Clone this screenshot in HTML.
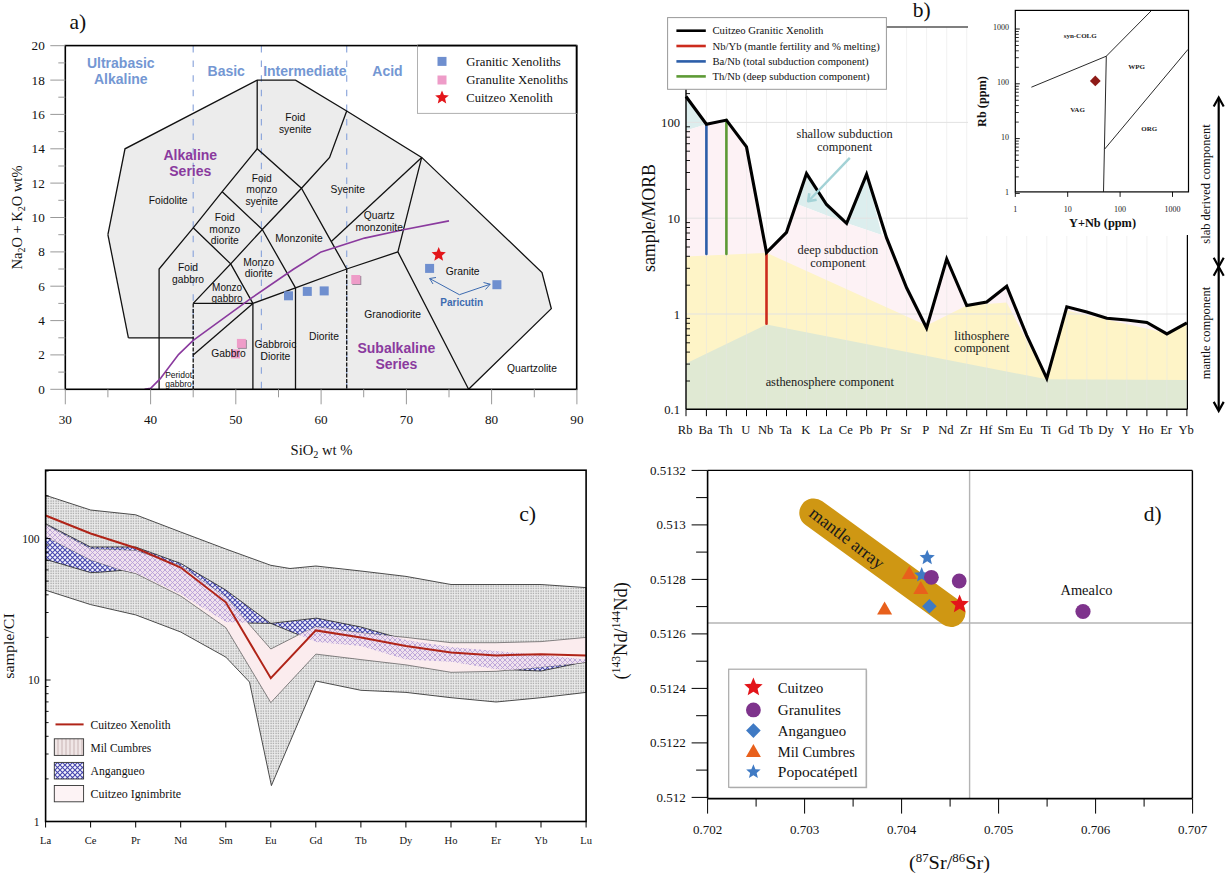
<!DOCTYPE html>
<html><head><meta charset="utf-8"><style>
html,body{margin:0;padding:0;background:#fff;width:1228px;height:875px;overflow:hidden}
svg{display:block}
.sans{font-family:"Liberation Sans",sans-serif}
.serif{font-family:"Liberation Serif",serif}
</style></head><body>
<svg width="1228" height="875" viewBox="0 0 1228 875">
<polygon points="107.9,234.7 125.0,148.8 257.2,80.1 295.5,80.1 346.7,111.0 421.7,157.4 542.0,272.5 551.3,308.6 468.6,389.3 193.2,389.3 193.2,337.8 128.4,337.8" fill="#ececec" stroke="none"/>
<line x1="193.2" y1="46" x2="193.2" y2="389" stroke="#8fa8dc" stroke-width="1.2" stroke-dasharray="6.5,8.1"/>
<line x1="261.4" y1="46" x2="261.4" y2="389" stroke="#8fa8dc" stroke-width="1.2" stroke-dasharray="6.5,8.1"/>
<line x1="346.7" y1="46" x2="346.7" y2="389" stroke="#8fa8dc" stroke-width="1.2" stroke-dasharray="6.5,8.1"/>
<polyline points="107.9,234.7 125.0,148.8 257.2,80.1 295.5,80.1 346.7,111.0 421.7,157.4 542.0,272.5 551.3,308.6 468.6,389.3" fill="none" stroke="#111" stroke-width="1.3" stroke-linejoin="miter"/>
<polyline points="128.4,337.8 107.9,234.7" fill="none" stroke="#111" stroke-width="1.3" stroke-linejoin="miter"/>
<polyline points="128.4,337.8 193.2,337.8" fill="none" stroke="#111" stroke-width="1.3" stroke-linejoin="miter"/>
<polyline points="159.1,389.3 159.1,269.0 193.2,227.8 222.2,191.7 257.2,148.8 301.5,188.3 329.6,157.4 346.7,111.0" fill="none" stroke="#111" stroke-width="1.3" stroke-linejoin="miter"/>
<polyline points="257.2,80.1 257.2,148.8" fill="none" stroke="#111" stroke-width="1.3" stroke-linejoin="miter"/>
<polyline points="222.2,191.7 262.3,229.5 301.5,188.3" fill="none" stroke="#111" stroke-width="1.3" stroke-linejoin="miter"/>
<polyline points="193.2,227.8 230.7,263.9 262.3,229.5 295.5,287.9" fill="none" stroke="#111" stroke-width="1.3" stroke-linejoin="miter"/>
<polyline points="301.5,188.3 331.3,241.6 346.7,269.0" fill="none" stroke="#111" stroke-width="1.3" stroke-linejoin="miter"/>
<polyline points="331.3,241.6 421.7,157.4" fill="none" stroke="#111" stroke-width="1.3" stroke-linejoin="miter"/>
<polyline points="421.7,157.4 397.9,251.9 468.6,389.3" fill="none" stroke="#111" stroke-width="1.3" stroke-linejoin="miter"/>
<polyline points="193.2,303.4 230.7,263.9 252.9,303.4" fill="none" stroke="#111" stroke-width="1.3" stroke-linejoin="miter"/>
<polyline points="193.2,303.4 252.9,303.4 295.5,287.9 346.7,269.0 397.9,251.9" fill="none" stroke="#111" stroke-width="1.3" stroke-linejoin="miter"/>
<polyline points="193.2,354.9 252.9,303.4" fill="none" stroke="#111" stroke-width="1.3" stroke-linejoin="miter"/>
<polyline points="252.9,389.3 252.9,303.4" fill="none" stroke="#111" stroke-width="1.3" stroke-linejoin="miter"/>
<polyline points="295.5,389.3 295.5,287.9" fill="none" stroke="#111" stroke-width="1.3" stroke-linejoin="miter"/>
<line x1="346.7" y1="269.0" x2="346.7" y2="389.3" stroke="#111" stroke-width="1.3" stroke-dasharray="4,1.5"/>
<line x1="193.2" y1="303.4" x2="193.2" y2="389.3" stroke="#111" stroke-width="1.3" stroke-dasharray="4,1.5"/>
<polyline points="144.6,389.3 150.6,388.4 160.8,378.1 168.5,367.8 178.7,354.3 193.2,340.3 252.0,297.7 293.8,269.0 321.1,251.9 364.6,238.1 402.1,230.0 449.0,220.9" fill="none" stroke="#8a3a9e" stroke-width="1.6" stroke-linejoin="round"/>
<rect x="65.3" y="45.6" width="511.4" height="343.7" fill="none" stroke="#000" stroke-width="1.6"/>
<line x1="50.3" y1="389.3" x2="65.3" y2="389.3" stroke="#999" stroke-width="1"/>
<line x1="58.3" y1="372.1" x2="65.3" y2="372.1" stroke="#999" stroke-width="1"/>
<line x1="50.3" y1="354.9" x2="65.3" y2="354.9" stroke="#999" stroke-width="1"/>
<line x1="58.3" y1="337.8" x2="65.3" y2="337.8" stroke="#999" stroke-width="1"/>
<line x1="50.3" y1="320.6" x2="65.3" y2="320.6" stroke="#999" stroke-width="1"/>
<line x1="58.3" y1="303.4" x2="65.3" y2="303.4" stroke="#999" stroke-width="1"/>
<line x1="50.3" y1="286.2" x2="65.3" y2="286.2" stroke="#999" stroke-width="1"/>
<line x1="58.3" y1="269.0" x2="65.3" y2="269.0" stroke="#999" stroke-width="1"/>
<line x1="50.3" y1="251.9" x2="65.3" y2="251.9" stroke="#999" stroke-width="1"/>
<line x1="58.3" y1="234.7" x2="65.3" y2="234.7" stroke="#999" stroke-width="1"/>
<line x1="50.3" y1="217.5" x2="65.3" y2="217.5" stroke="#999" stroke-width="1"/>
<line x1="58.3" y1="200.3" x2="65.3" y2="200.3" stroke="#999" stroke-width="1"/>
<line x1="50.3" y1="183.1" x2="65.3" y2="183.1" stroke="#999" stroke-width="1"/>
<line x1="58.3" y1="166.0" x2="65.3" y2="166.0" stroke="#999" stroke-width="1"/>
<line x1="50.3" y1="148.8" x2="65.3" y2="148.8" stroke="#999" stroke-width="1"/>
<line x1="58.3" y1="131.6" x2="65.3" y2="131.6" stroke="#999" stroke-width="1"/>
<line x1="50.3" y1="114.4" x2="65.3" y2="114.4" stroke="#999" stroke-width="1"/>
<line x1="58.3" y1="97.2" x2="65.3" y2="97.2" stroke="#999" stroke-width="1"/>
<line x1="50.3" y1="80.1" x2="65.3" y2="80.1" stroke="#999" stroke-width="1"/>
<line x1="58.3" y1="62.9" x2="65.3" y2="62.9" stroke="#999" stroke-width="1"/>
<line x1="50.3" y1="45.7" x2="65.3" y2="45.7" stroke="#999" stroke-width="1"/>
<line x1="65.3" y1="389.3" x2="65.3" y2="404.3" stroke="#999" stroke-width="1"/>
<line x1="107.9" y1="389.3" x2="107.9" y2="397.3" stroke="#999" stroke-width="1"/>
<line x1="150.6" y1="389.3" x2="150.6" y2="404.3" stroke="#999" stroke-width="1"/>
<line x1="193.2" y1="389.3" x2="193.2" y2="397.3" stroke="#999" stroke-width="1"/>
<line x1="235.8" y1="389.3" x2="235.8" y2="404.3" stroke="#999" stroke-width="1"/>
<line x1="278.5" y1="389.3" x2="278.5" y2="397.3" stroke="#999" stroke-width="1"/>
<line x1="321.1" y1="389.3" x2="321.1" y2="404.3" stroke="#999" stroke-width="1"/>
<line x1="363.7" y1="389.3" x2="363.7" y2="397.3" stroke="#999" stroke-width="1"/>
<line x1="406.4" y1="389.3" x2="406.4" y2="404.3" stroke="#999" stroke-width="1"/>
<line x1="449.0" y1="389.3" x2="449.0" y2="397.3" stroke="#999" stroke-width="1"/>
<line x1="491.6" y1="389.3" x2="491.6" y2="404.3" stroke="#999" stroke-width="1"/>
<line x1="534.3" y1="389.3" x2="534.3" y2="397.3" stroke="#999" stroke-width="1"/>
<line x1="576.9" y1="389.3" x2="576.9" y2="404.3" stroke="#999" stroke-width="1"/>
<text x="44.8" y="393.8" class="serif" font-size="13.2" text-anchor="end" fill="#111">0</text>
<text x="44.8" y="359.4" class="serif" font-size="13.2" text-anchor="end" fill="#111">2</text>
<text x="44.8" y="325.1" class="serif" font-size="13.2" text-anchor="end" fill="#111">4</text>
<text x="44.8" y="290.7" class="serif" font-size="13.2" text-anchor="end" fill="#111">6</text>
<text x="44.8" y="256.4" class="serif" font-size="13.2" text-anchor="end" fill="#111">8</text>
<text x="44.8" y="222.0" class="serif" font-size="13.2" text-anchor="end" fill="#111">10</text>
<text x="44.8" y="187.6" class="serif" font-size="13.2" text-anchor="end" fill="#111">12</text>
<text x="44.8" y="153.3" class="serif" font-size="13.2" text-anchor="end" fill="#111">14</text>
<text x="44.8" y="118.9" class="serif" font-size="13.2" text-anchor="end" fill="#111">16</text>
<text x="44.8" y="84.6" class="serif" font-size="13.2" text-anchor="end" fill="#111">18</text>
<text x="44.8" y="50.2" class="serif" font-size="13.2" text-anchor="end" fill="#111">20</text>
<text x="65.3" y="424.0" class="serif" font-size="13.2" text-anchor="middle" fill="#111">30</text>
<text x="150.6" y="424.0" class="serif" font-size="13.2" text-anchor="middle" fill="#111">40</text>
<text x="235.8" y="424.0" class="serif" font-size="13.2" text-anchor="middle" fill="#111">50</text>
<text x="321.1" y="424.0" class="serif" font-size="13.2" text-anchor="middle" fill="#111">60</text>
<text x="406.4" y="424.0" class="serif" font-size="13.2" text-anchor="middle" fill="#111">70</text>
<text x="491.6" y="424.0" class="serif" font-size="13.2" text-anchor="middle" fill="#111">80</text>
<text x="576.9" y="424.0" class="serif" font-size="13.2" text-anchor="middle" fill="#111">90</text>
<text x="290.5" y="455.3" class="serif" font-size="15" fill="#111" textLength="62" lengthAdjust="spacingAndGlyphs">SiO<tspan font-size="10.5" dy="3">2</tspan><tspan dy="-3"> wt %</tspan></text>
<text transform="translate(21.6,269.5) rotate(-90)" class="serif" font-size="14.5" fill="#111" textLength="104" lengthAdjust="spacingAndGlyphs">Na<tspan font-size="10" dy="3">2</tspan><tspan dy="-3">O + K</tspan><tspan font-size="10" dy="3">2</tspan><tspan dy="-3">O wt%</tspan></text>
<text x="69.5" y="29.3" class="serif" font-size="21.5" fill="#111">a)</text>
<text x="120.8" y="68" text-anchor="middle" class="sans" font-weight="bold" fill="#7497d3" font-size="14">Ultrabasic</text>
<text x="120.8" y="84" text-anchor="middle" class="sans" font-weight="bold" fill="#7497d3" font-size="14">Alkaline</text>
<text x="226.2" y="75.5" text-anchor="middle" class="sans" font-weight="bold" fill="#7497d3" font-size="14">Basic</text>
<text x="304.8" y="75.5" text-anchor="middle" class="sans" font-weight="bold" fill="#7497d3" font-size="14">Intermediate</text>
<text x="387.5" y="75.5" text-anchor="middle" class="sans" font-weight="bold" fill="#7497d3" font-size="14">Acid</text>
<text x="190.3" y="159.8" text-anchor="middle" class="sans" font-weight="bold" fill="#8a3a9e" font-size="14">Alkaline</text>
<text x="190.3" y="175.7" text-anchor="middle" class="sans" font-weight="bold" fill="#8a3a9e" font-size="14">Series</text>
<text x="396.4" y="353.2" text-anchor="middle" class="sans" font-weight="bold" fill="#8a3a9e" font-size="14">Subalkaline</text>
<text x="396.4" y="369.4" text-anchor="middle" class="sans" font-weight="bold" fill="#8a3a9e" font-size="14">Series</text>
<rect x="284.0" y="291.3" width="9" height="9" fill="#6f8fcf"/>
<rect x="302.8" y="286.9" width="9" height="9" fill="#6f8fcf"/>
<rect x="319.7" y="286.4" width="9" height="9" fill="#6f8fcf"/>
<rect x="425.1" y="263.9" width="9" height="9" fill="#6f8fcf"/>
<rect x="492.4" y="280.2" width="9" height="9" fill="#6f8fcf"/>
<rect x="352.3" y="276.0" width="9" height="9" fill="#9a8a9a"/>
<rect x="351.3" y="275.0" width="9" height="9" fill="#ee9cc8"/>
<rect x="237.9" y="339.9" width="9" height="9" fill="#9a8a9a"/>
<rect x="236.9" y="338.9" width="9" height="9" fill="#ee9cc8"/>
<rect x="231.0" y="349.4" width="9" height="9" fill="#ee9cc8"/>
<polygon points="438.70,247.10 440.68,251.87 445.83,252.28 441.91,255.64 443.11,260.67 438.70,257.98 434.29,260.67 435.49,255.64 431.57,252.28 436.72,251.87" fill="#e3151a"/>
<polyline points="429.6,278.5 459.4,294.7 490.2,284.2" fill="none" stroke="#3d6bb0" stroke-width="1"/>
<polyline points="436,277.5 429.6,278.5 433,284" fill="none" stroke="#3d6bb0" stroke-width="1"/>
<polyline points="483.5,282.5 490.2,284.2 485.5,289.5" fill="none" stroke="#3d6bb0" stroke-width="1"/>
<text x="461.7" y="306" text-anchor="middle" class="sans" font-weight="bold" font-size="10" fill="#3d6bb0">Paricutin</text>
<text x="295.3" y="121.4" text-anchor="middle" class="sans" font-size="10.3" fill="#111">Foid</text>
<text x="295.3" y="132.9" text-anchor="middle" class="sans" font-size="10.3" fill="#111">syenite</text>
<text x="168.1" y="203.6" text-anchor="middle" class="sans" font-size="10.3" fill="#111">Foidolite</text>
<text x="261.8" y="181.7" text-anchor="middle" class="sans" font-size="10.3" fill="#111">Foid</text>
<text x="261.8" y="193.4" text-anchor="middle" class="sans" font-size="10.3" fill="#111">monzo</text>
<text x="261.8" y="204.7" text-anchor="middle" class="sans" font-size="10.3" fill="#111">syenite</text>
<text x="224.8" y="221.2" text-anchor="middle" class="sans" font-size="10.3" fill="#111">Foid</text>
<text x="224.8" y="232.9" text-anchor="middle" class="sans" font-size="10.3" fill="#111">monzo</text>
<text x="224.8" y="243.7" text-anchor="middle" class="sans" font-size="10.3" fill="#111">diorite</text>
<text x="188" y="271.1" text-anchor="middle" class="sans" font-size="10.3" fill="#111">Foid</text>
<text x="188" y="282.8" text-anchor="middle" class="sans" font-size="10.3" fill="#111">gabbro</text>
<text x="258.7" y="266.4" text-anchor="middle" class="sans" font-size="10.3" fill="#111">Monzo</text>
<text x="258.7" y="276.9" text-anchor="middle" class="sans" font-size="10.3" fill="#111">diorite</text>
<text x="227.1" y="291.0" text-anchor="middle" class="sans" font-size="10" fill="#111">Monzo</text>
<text x="227.1" y="301.5" text-anchor="middle" class="sans" font-size="10" fill="#111">gabbro</text>
<text x="228.5" y="357.0" text-anchor="middle" class="sans" font-size="10.3" fill="#111">Gabbro</text>
<text x="275.4" y="348.4" text-anchor="middle" class="sans" font-size="10.3" fill="#111">Gabbroic</text>
<text x="275.4" y="360.1" text-anchor="middle" class="sans" font-size="10.3" fill="#111">Diorite</text>
<text x="178.6" y="377.6" text-anchor="middle" class="sans" font-size="8.5" fill="#111">Peridot</text>
<text x="178.6" y="386.5" text-anchor="middle" class="sans" font-size="8.5" fill="#111">gabbro</text>
<text x="299" y="242.1" text-anchor="middle" class="sans" font-size="10.3" fill="#111">Monzonite</text>
<text x="347.7" y="193.4" text-anchor="middle" class="sans" font-size="10.3" fill="#111">Syenite</text>
<text x="379.2" y="219.4" text-anchor="middle" class="sans" font-size="10.3" fill="#111">Quartz</text>
<text x="379.2" y="230.5" text-anchor="middle" class="sans" font-size="10.3" fill="#111">monzonite</text>
<text x="324" y="340.2" text-anchor="middle" class="sans" font-size="10.3" fill="#111">Diorite</text>
<text x="392.6" y="317.9" text-anchor="middle" class="sans" font-size="10.3" fill="#111">Granodiorite</text>
<text x="462.7" y="275.2" text-anchor="middle" class="sans" font-size="10.3" fill="#111">Granite</text>
<text x="532" y="372.4" text-anchor="middle" class="sans" font-size="10.3" fill="#111">Quartzolite</text>
<rect x="417.5" y="45.6" width="159" height="67.8" fill="#fff" stroke="#b0b0b0" stroke-width="1"/>
<line x1="576.5" y1="45.6" x2="576.5" y2="113.4" stroke="#000" stroke-width="1.6"/>
<line x1="417.5" y1="45.6" x2="576.5" y2="45.6" stroke="#000" stroke-width="1.6"/>
<rect x="437.5" y="56.9" width="9" height="9" fill="#6f8fcf"/>
<rect x="437.5" y="75.5" width="9" height="9" fill="#ee9cc8"/>
<polygon points="442.00,90.40 443.90,94.98 448.85,95.38 445.08,98.60 446.23,103.42 442.00,100.84 437.77,103.42 438.92,98.60 435.15,95.38 440.10,94.98" fill="#e3151a"/>
<text x="466.3" y="65.5" class="serif" font-size="12.3" fill="#111" textLength="94.5" lengthAdjust="spacingAndGlyphs">Granitic Xenoliths</text>
<text x="466.3" y="84.0" class="serif" font-size="12.3" fill="#111" textLength="101.8" lengthAdjust="spacingAndGlyphs">Granulite Xenoliths</text>
<text x="466.3" y="101.5" class="serif" font-size="12.3" fill="#111" textLength="86.5" lengthAdjust="spacingAndGlyphs">Cuitzeo Xenolith</text>
<polygon points="686.0,96.5 706.4,124.2 686.0,130.4" fill="#dceeee"/>
<polygon points="797.5,204.3 806.5,173.6 826.5,204.5 846.6,223.4 866.6,174.3 881.8,235.1 846.3,223.0" fill="#dceeee"/>
<polygon points="686.0,130.4 706.4,124.2 726.4,120.1 746.5,146.9 766.5,252.5 786.5,232.3 797.5,204.3 846.3,223.0 881.8,235.1 886.6,237.9 906.6,287.8 926.6,327.9 946.7,259.0 966.7,305.6 986.7,302.0 1006.7,286.3 1026.7,335.3 1046.8,378.4 1066.8,306.8 1086.8,312.1 1106.8,318.3 1126.8,320.0 1146.9,322.4 1166.9,333.9 1186.9,322.9 1187.4,409.2 686.0,409.2" fill="#fdf2f5"/>
<polygon points="686.0,256.5 766.5,252.8 926.6,325.5 966.7,305.6 1006.7,302.6 1046.8,378.4 1066.8,310.4 1166.9,333.2 1186.9,322.9 1187.4,409.2 686.0,409.2" fill="#fef4c7"/>
<polygon points="686.0,363.5 766.5,324.5 1046.8,379.3 1187.4,380.0 1187.4,409.2 686.0,409.2" fill="#e0e9d3"/>
<line x1="706.4" y1="27.0" x2="706.4" y2="409.2" stroke="#e6e6e6" stroke-opacity="0.7" stroke-width="0.8"/>
<line x1="726.4" y1="27.0" x2="726.4" y2="409.2" stroke="#e6e6e6" stroke-opacity="0.7" stroke-width="0.8"/>
<line x1="746.5" y1="27.0" x2="746.5" y2="409.2" stroke="#e6e6e6" stroke-opacity="0.7" stroke-width="0.8"/>
<line x1="766.5" y1="27.0" x2="766.5" y2="409.2" stroke="#e6e6e6" stroke-opacity="0.7" stroke-width="0.8"/>
<line x1="786.5" y1="27.0" x2="786.5" y2="409.2" stroke="#e6e6e6" stroke-opacity="0.7" stroke-width="0.8"/>
<line x1="806.5" y1="27.0" x2="806.5" y2="409.2" stroke="#e6e6e6" stroke-opacity="0.7" stroke-width="0.8"/>
<line x1="826.5" y1="27.0" x2="826.5" y2="409.2" stroke="#e6e6e6" stroke-opacity="0.7" stroke-width="0.8"/>
<line x1="846.6" y1="27.0" x2="846.6" y2="409.2" stroke="#e6e6e6" stroke-opacity="0.7" stroke-width="0.8"/>
<line x1="866.6" y1="27.0" x2="866.6" y2="409.2" stroke="#e6e6e6" stroke-opacity="0.7" stroke-width="0.8"/>
<line x1="886.6" y1="27.0" x2="886.6" y2="409.2" stroke="#e6e6e6" stroke-opacity="0.7" stroke-width="0.8"/>
<line x1="906.6" y1="27.0" x2="906.6" y2="409.2" stroke="#e6e6e6" stroke-opacity="0.7" stroke-width="0.8"/>
<line x1="926.6" y1="27.0" x2="926.6" y2="409.2" stroke="#e6e6e6" stroke-opacity="0.7" stroke-width="0.8"/>
<line x1="946.7" y1="27.0" x2="946.7" y2="409.2" stroke="#e6e6e6" stroke-opacity="0.7" stroke-width="0.8"/>
<line x1="966.7" y1="27.0" x2="966.7" y2="409.2" stroke="#e6e6e6" stroke-opacity="0.7" stroke-width="0.8"/>
<line x1="986.7" y1="27.0" x2="986.7" y2="409.2" stroke="#e6e6e6" stroke-opacity="0.7" stroke-width="0.8"/>
<line x1="1006.7" y1="27.0" x2="1006.7" y2="409.2" stroke="#e6e6e6" stroke-opacity="0.7" stroke-width="0.8"/>
<line x1="1026.7" y1="27.0" x2="1026.7" y2="409.2" stroke="#e6e6e6" stroke-opacity="0.7" stroke-width="0.8"/>
<line x1="1046.8" y1="27.0" x2="1046.8" y2="409.2" stroke="#e6e6e6" stroke-opacity="0.7" stroke-width="0.8"/>
<line x1="1066.8" y1="27.0" x2="1066.8" y2="409.2" stroke="#e6e6e6" stroke-opacity="0.7" stroke-width="0.8"/>
<line x1="1086.8" y1="27.0" x2="1086.8" y2="409.2" stroke="#e6e6e6" stroke-opacity="0.7" stroke-width="0.8"/>
<line x1="1106.8" y1="27.0" x2="1106.8" y2="409.2" stroke="#e6e6e6" stroke-opacity="0.7" stroke-width="0.8"/>
<line x1="1126.8" y1="27.0" x2="1126.8" y2="409.2" stroke="#e6e6e6" stroke-opacity="0.7" stroke-width="0.8"/>
<line x1="1146.9" y1="27.0" x2="1146.9" y2="409.2" stroke="#e6e6e6" stroke-opacity="0.7" stroke-width="0.8"/>
<line x1="1166.9" y1="27.0" x2="1166.9" y2="409.2" stroke="#e6e6e6" stroke-opacity="0.7" stroke-width="0.8"/>
<line x1="1186.9" y1="27.0" x2="1186.9" y2="409.2" stroke="#e6e6e6" stroke-opacity="0.7" stroke-width="0.8"/>
<line x1="686.0" y1="122.4" x2="1187.4" y2="122.4" stroke="#e2e2e2" stroke-width="1"/>
<line x1="686.0" y1="218.2" x2="1187.4" y2="218.2" stroke="#e2e2e2" stroke-width="1"/>
<line x1="686.0" y1="314.0" x2="1187.4" y2="314.0" stroke="#e2e2e2" stroke-width="1"/>
<line x1="886" y1="27.0" x2="968" y2="27.0" stroke="#555" stroke-width="1.6"/>
<rect x="968" y="0" width="222" height="236" fill="#fff"/>
<line x1="706.4" y1="124.2" x2="706.4" y2="253.9" stroke="#2c5ea9" stroke-width="2.6" stroke-linecap="round"/>
<line x1="726.4" y1="120.1" x2="726.4" y2="253.9" stroke="#5d9a35" stroke-width="2.6" stroke-linecap="round"/>
<line x1="766.5" y1="252.5" x2="766.5" y2="323.8" stroke="#cc2b1d" stroke-width="2.6" stroke-linecap="round"/>
<polyline points="686.0,96.5 706.4,124.2 726.4,120.1 746.5,146.9 766.5,252.5 786.5,232.3 806.5,173.6 826.5,204.5 846.6,223.4 866.6,174.3 886.6,237.9 906.6,287.8 926.6,327.9 946.7,259.0 966.7,305.6 986.7,302.0 1006.7,286.3 1026.7,335.3 1046.8,378.4 1066.8,306.8 1086.8,312.1 1106.8,318.3 1126.8,320.0 1146.9,322.4 1166.9,333.9 1186.9,322.9" fill="none" stroke="#000" stroke-width="3.1" stroke-linejoin="miter"/>
<line x1="686.0" y1="26.0" x2="686.0" y2="409.2" stroke="#000" stroke-width="1.4"/>
<line x1="686.0" y1="409.2" x2="1187.4" y2="409.2" stroke="#000" stroke-width="1.4"/>
<line x1="1187.4" y1="235" x2="1187.4" y2="409.2" stroke="#000" stroke-width="1.2"/>
<line x1="686.0" y1="409.2" x2="686.0" y2="416.2" stroke="#000" stroke-width="1"/>
<text x="685.2" y="433.5" class="serif" font-size="12.6" text-anchor="middle" fill="#111">Rb</text>
<line x1="706.4" y1="409.2" x2="706.4" y2="416.2" stroke="#000" stroke-width="1"/>
<text x="705.6" y="433.5" class="serif" font-size="12.6" text-anchor="middle" fill="#111">Ba</text>
<line x1="726.4" y1="409.2" x2="726.4" y2="416.2" stroke="#000" stroke-width="1"/>
<text x="725.6" y="433.5" class="serif" font-size="12.6" text-anchor="middle" fill="#111">Th</text>
<line x1="746.5" y1="409.2" x2="746.5" y2="416.2" stroke="#000" stroke-width="1"/>
<text x="745.7" y="433.5" class="serif" font-size="12.6" text-anchor="middle" fill="#111">U</text>
<line x1="766.5" y1="409.2" x2="766.5" y2="416.2" stroke="#000" stroke-width="1"/>
<text x="765.7" y="433.5" class="serif" font-size="12.6" text-anchor="middle" fill="#111">Nb</text>
<line x1="786.5" y1="409.2" x2="786.5" y2="416.2" stroke="#000" stroke-width="1"/>
<text x="785.7" y="433.5" class="serif" font-size="12.6" text-anchor="middle" fill="#111">Ta</text>
<line x1="806.5" y1="409.2" x2="806.5" y2="416.2" stroke="#000" stroke-width="1"/>
<text x="805.7" y="433.5" class="serif" font-size="12.6" text-anchor="middle" fill="#111">K</text>
<line x1="826.5" y1="409.2" x2="826.5" y2="416.2" stroke="#000" stroke-width="1"/>
<text x="825.7" y="433.5" class="serif" font-size="12.6" text-anchor="middle" fill="#111">La</text>
<line x1="846.6" y1="409.2" x2="846.6" y2="416.2" stroke="#000" stroke-width="1"/>
<text x="845.8" y="433.5" class="serif" font-size="12.6" text-anchor="middle" fill="#111">Ce</text>
<line x1="866.6" y1="409.2" x2="866.6" y2="416.2" stroke="#000" stroke-width="1"/>
<text x="865.8" y="433.5" class="serif" font-size="12.6" text-anchor="middle" fill="#111">Pb</text>
<line x1="886.6" y1="409.2" x2="886.6" y2="416.2" stroke="#000" stroke-width="1"/>
<text x="885.8" y="433.5" class="serif" font-size="12.6" text-anchor="middle" fill="#111">Pr</text>
<line x1="906.6" y1="409.2" x2="906.6" y2="416.2" stroke="#000" stroke-width="1"/>
<text x="905.8" y="433.5" class="serif" font-size="12.6" text-anchor="middle" fill="#111">Sr</text>
<line x1="926.6" y1="409.2" x2="926.6" y2="416.2" stroke="#000" stroke-width="1"/>
<text x="925.8" y="433.5" class="serif" font-size="12.6" text-anchor="middle" fill="#111">P</text>
<line x1="946.7" y1="409.2" x2="946.7" y2="416.2" stroke="#000" stroke-width="1"/>
<text x="945.9" y="433.5" class="serif" font-size="12.6" text-anchor="middle" fill="#111">Nd</text>
<line x1="966.7" y1="409.2" x2="966.7" y2="416.2" stroke="#000" stroke-width="1"/>
<text x="965.9" y="433.5" class="serif" font-size="12.6" text-anchor="middle" fill="#111">Zr</text>
<line x1="986.7" y1="409.2" x2="986.7" y2="416.2" stroke="#000" stroke-width="1"/>
<text x="985.9" y="433.5" class="serif" font-size="12.6" text-anchor="middle" fill="#111">Hf</text>
<line x1="1006.7" y1="409.2" x2="1006.7" y2="416.2" stroke="#000" stroke-width="1"/>
<text x="1005.9" y="433.5" class="serif" font-size="12.6" text-anchor="middle" fill="#111">Sm</text>
<line x1="1026.7" y1="409.2" x2="1026.7" y2="416.2" stroke="#000" stroke-width="1"/>
<text x="1025.9" y="433.5" class="serif" font-size="12.6" text-anchor="middle" fill="#111">Eu</text>
<line x1="1046.8" y1="409.2" x2="1046.8" y2="416.2" stroke="#000" stroke-width="1"/>
<text x="1046.0" y="433.5" class="serif" font-size="12.6" text-anchor="middle" fill="#111">Ti</text>
<line x1="1066.8" y1="409.2" x2="1066.8" y2="416.2" stroke="#000" stroke-width="1"/>
<text x="1066.0" y="433.5" class="serif" font-size="12.6" text-anchor="middle" fill="#111">Gd</text>
<line x1="1086.8" y1="409.2" x2="1086.8" y2="416.2" stroke="#000" stroke-width="1"/>
<text x="1086.0" y="433.5" class="serif" font-size="12.6" text-anchor="middle" fill="#111">Tb</text>
<line x1="1106.8" y1="409.2" x2="1106.8" y2="416.2" stroke="#000" stroke-width="1"/>
<text x="1106.0" y="433.5" class="serif" font-size="12.6" text-anchor="middle" fill="#111">Dy</text>
<line x1="1126.8" y1="409.2" x2="1126.8" y2="416.2" stroke="#000" stroke-width="1"/>
<text x="1126.0" y="433.5" class="serif" font-size="12.6" text-anchor="middle" fill="#111">Y</text>
<line x1="1146.9" y1="409.2" x2="1146.9" y2="416.2" stroke="#000" stroke-width="1"/>
<text x="1146.1" y="433.5" class="serif" font-size="12.6" text-anchor="middle" fill="#111">Ho</text>
<line x1="1166.9" y1="409.2" x2="1166.9" y2="416.2" stroke="#000" stroke-width="1"/>
<text x="1166.1" y="433.5" class="serif" font-size="12.6" text-anchor="middle" fill="#111">Er</text>
<line x1="1186.9" y1="409.2" x2="1186.9" y2="416.2" stroke="#000" stroke-width="1"/>
<text x="1186.1" y="433.5" class="serif" font-size="12.6" text-anchor="middle" fill="#111">Yb</text>
<line x1="686.0" y1="381.0" x2="690.0" y2="381.0" stroke="#000" stroke-width="0.9"/>
<line x1="686.0" y1="364.1" x2="690.0" y2="364.1" stroke="#000" stroke-width="0.9"/>
<line x1="686.0" y1="352.1" x2="690.0" y2="352.1" stroke="#000" stroke-width="0.9"/>
<line x1="686.0" y1="342.8" x2="690.0" y2="342.8" stroke="#000" stroke-width="0.9"/>
<line x1="686.0" y1="335.3" x2="690.0" y2="335.3" stroke="#000" stroke-width="0.9"/>
<line x1="686.0" y1="328.8" x2="690.0" y2="328.8" stroke="#000" stroke-width="0.9"/>
<line x1="686.0" y1="323.3" x2="690.0" y2="323.3" stroke="#000" stroke-width="0.9"/>
<line x1="686.0" y1="318.4" x2="690.0" y2="318.4" stroke="#000" stroke-width="0.9"/>
<line x1="686.0" y1="285.2" x2="690.0" y2="285.2" stroke="#000" stroke-width="0.9"/>
<line x1="686.0" y1="268.3" x2="690.0" y2="268.3" stroke="#000" stroke-width="0.9"/>
<line x1="686.0" y1="256.3" x2="690.0" y2="256.3" stroke="#000" stroke-width="0.9"/>
<line x1="686.0" y1="247.0" x2="690.0" y2="247.0" stroke="#000" stroke-width="0.9"/>
<line x1="686.0" y1="239.5" x2="690.0" y2="239.5" stroke="#000" stroke-width="0.9"/>
<line x1="686.0" y1="233.0" x2="690.0" y2="233.0" stroke="#000" stroke-width="0.9"/>
<line x1="686.0" y1="227.5" x2="690.0" y2="227.5" stroke="#000" stroke-width="0.9"/>
<line x1="686.0" y1="222.6" x2="690.0" y2="222.6" stroke="#000" stroke-width="0.9"/>
<line x1="686.0" y1="189.4" x2="690.0" y2="189.4" stroke="#000" stroke-width="0.9"/>
<line x1="686.0" y1="172.5" x2="690.0" y2="172.5" stroke="#000" stroke-width="0.9"/>
<line x1="686.0" y1="160.5" x2="690.0" y2="160.5" stroke="#000" stroke-width="0.9"/>
<line x1="686.0" y1="151.2" x2="690.0" y2="151.2" stroke="#000" stroke-width="0.9"/>
<line x1="686.0" y1="143.7" x2="690.0" y2="143.7" stroke="#000" stroke-width="0.9"/>
<line x1="686.0" y1="137.2" x2="690.0" y2="137.2" stroke="#000" stroke-width="0.9"/>
<line x1="686.0" y1="131.7" x2="690.0" y2="131.7" stroke="#000" stroke-width="0.9"/>
<line x1="686.0" y1="126.8" x2="690.0" y2="126.8" stroke="#000" stroke-width="0.9"/>
<line x1="686.0" y1="93.6" x2="690.0" y2="93.6" stroke="#000" stroke-width="0.9"/>
<line x1="686.0" y1="76.7" x2="690.0" y2="76.7" stroke="#000" stroke-width="0.9"/>
<line x1="686.0" y1="64.7" x2="690.0" y2="64.7" stroke="#000" stroke-width="0.9"/>
<line x1="686.0" y1="55.4" x2="690.0" y2="55.4" stroke="#000" stroke-width="0.9"/>
<line x1="686.0" y1="47.9" x2="690.0" y2="47.9" stroke="#000" stroke-width="0.9"/>
<line x1="686.0" y1="41.4" x2="690.0" y2="41.4" stroke="#000" stroke-width="0.9"/>
<line x1="686.0" y1="35.9" x2="690.0" y2="35.9" stroke="#000" stroke-width="0.9"/>
<line x1="686.0" y1="31.0" x2="690.0" y2="31.0" stroke="#000" stroke-width="0.9"/>
<text x="680.0" y="127.0" class="serif" font-size="12.6" text-anchor="end" fill="#111">100</text>
<text x="680.0" y="222.8" class="serif" font-size="12.6" text-anchor="end" fill="#111">10</text>
<text x="680.0" y="318.6" class="serif" font-size="12.6" text-anchor="end" fill="#111">1</text>
<text x="680.0" y="414.4" class="serif" font-size="12.6" text-anchor="end" fill="#111">0.1</text>
<text transform="translate(654.5,218) rotate(-90)" class="serif" font-size="17.8" text-anchor="middle" fill="#111" textLength="108.0" lengthAdjust="spacingAndGlyphs">sample/MORB</text>
<text x="912.8" y="17.3" class="serif" font-size="21.5" fill="#111">b)</text>
<text x="844.6" y="137.5" class="serif" font-size="12.4" fill="#1a1a1a" text-anchor="middle">shallow subduction</text>
<text x="844.6" y="151" class="serif" font-size="12.4" fill="#1a1a1a" text-anchor="middle">component</text>
<text x="837.9" y="253.5" class="serif" font-size="12.4" fill="#1a1a1a" text-anchor="middle">deep subduction</text>
<text x="837.9" y="267" class="serif" font-size="12.4" fill="#1a1a1a" text-anchor="middle">component</text>
<text x="981.8" y="339.5" class="serif" font-size="12.4" fill="#1a1a1a" text-anchor="middle">lithosphere</text>
<text x="981.8" y="352.3" class="serif" font-size="12.4" fill="#1a1a1a" text-anchor="middle">component</text>
<text x="829.8" y="386" class="serif" font-size="12.4" fill="#1a1a1a" text-anchor="middle">asthenosphere component</text>
<line x1="849.8" y1="157.8" x2="810" y2="199.5" stroke="#a3d2d6" stroke-width="2.4"/>
<polyline points="809.3,193.2 808.2,201.2 816.6,199.8" fill="none" stroke="#a3d2d6" stroke-width="2.6" stroke-linejoin="round"/>
<rect x="667.6" y="17.6" width="218.8" height="71.7" fill="#fff" stroke="#999" stroke-width="1"/>
<line x1="676.4" y1="30.7" x2="705.8" y2="30.7" stroke="#000" stroke-width="2.6"/>
<text x="712.5" y="34.4" class="serif" font-size="10.7" fill="#111" textLength="110.8" lengthAdjust="spacingAndGlyphs">Cuitzeo Granitic Xenolith</text>
<line x1="676.4" y1="46" x2="705.8" y2="46" stroke="#cc2b1d" stroke-width="2.6"/>
<text x="712.5" y="49.7" class="serif" font-size="10.7" fill="#111" textLength="167.2" lengthAdjust="spacingAndGlyphs">Nb/Yb (mantle fertility and % melting)</text>
<line x1="676.4" y1="61.4" x2="705.8" y2="61.4" stroke="#2c5ea9" stroke-width="2.6"/>
<text x="712.5" y="65.1" class="serif" font-size="10.7" fill="#111" textLength="156.0" lengthAdjust="spacingAndGlyphs">Ba/Nb (total subduction component)</text>
<line x1="676.4" y1="76.4" x2="705.8" y2="76.4" stroke="#5d9a35" stroke-width="2.6"/>
<text x="712.5" y="80.1" class="serif" font-size="10.7" fill="#111" textLength="157.0" lengthAdjust="spacingAndGlyphs">Th/Nb (deep subduction component)</text>
<rect x="1015.3" y="10.4" width="173.2" height="181.5" fill="#fff" stroke="#000" stroke-width="1.2"/>
<polyline points="1031.4,87.2 1106.3,56.2 1151.0,11.0" fill="none" stroke="#111" stroke-width="0.9"/>
<polyline points="1106.3,56.2 1104.4,149.4 1103.5,191.9" fill="none" stroke="#111" stroke-width="0.9"/>
<polyline points="1104.4,149.4 1188.0,49.4" fill="none" stroke="#111" stroke-width="0.9"/>
<polygon points="1095.3,75.5 1100.7,80.9 1095.3,86.3 1089.9,80.9" fill="#8e1b17"/>
<text x="1080.2" y="38.4" class="serif" font-weight="bold" font-size="7" fill="#222" text-anchor="middle">syn-COLG</text>
<text x="1136.5" y="69.1" class="serif" font-weight="bold" font-size="7" fill="#222" text-anchor="middle">WPG</text>
<text x="1077.5" y="112.2" class="serif" font-weight="bold" font-size="7" fill="#222" text-anchor="middle">VAG</text>
<text x="1149.3" y="130.8" class="serif" font-weight="bold" font-size="7" fill="#222" text-anchor="middle">ORG</text>
<line x1="1015.3" y1="191.9" x2="1015.3" y2="196.9" stroke="#000" stroke-width="0.9"/>
<text x="1015.3" y="212" text-anchor="middle" class="serif" font-size="8" fill="#222">1</text>
<line x1="1015.3" y1="193.4" x2="1019.8" y2="193.4" stroke="#000" stroke-width="0.9"/>
<text x="1009" y="194.7" text-anchor="end" class="serif" font-size="8" fill="#222">1</text>
<line x1="1015.3" y1="176.9" x2="1018.8" y2="176.9" stroke="#000" stroke-width="0.8"/>
<line x1="1015.3" y1="167.3" x2="1018.8" y2="167.3" stroke="#000" stroke-width="0.8"/>
<line x1="1015.3" y1="160.4" x2="1018.8" y2="160.4" stroke="#000" stroke-width="0.8"/>
<line x1="1015.3" y1="155.1" x2="1018.8" y2="155.1" stroke="#000" stroke-width="0.8"/>
<line x1="1015.3" y1="150.8" x2="1018.8" y2="150.8" stroke="#000" stroke-width="0.8"/>
<line x1="1015.3" y1="147.1" x2="1018.8" y2="147.1" stroke="#000" stroke-width="0.8"/>
<line x1="1015.3" y1="143.9" x2="1018.8" y2="143.9" stroke="#000" stroke-width="0.8"/>
<line x1="1015.3" y1="141.1" x2="1018.8" y2="141.1" stroke="#000" stroke-width="0.8"/>
<line x1="1067.7" y1="191.9" x2="1067.7" y2="196.9" stroke="#000" stroke-width="0.9"/>
<text x="1067.7" y="212" text-anchor="middle" class="serif" font-size="8" fill="#222">10</text>
<line x1="1015.3" y1="138.6" x2="1019.8" y2="138.6" stroke="#000" stroke-width="0.9"/>
<text x="1009" y="139.9" text-anchor="end" class="serif" font-size="8" fill="#222">10</text>
<line x1="1015.3" y1="122.1" x2="1018.8" y2="122.1" stroke="#000" stroke-width="0.8"/>
<line x1="1015.3" y1="112.5" x2="1018.8" y2="112.5" stroke="#000" stroke-width="0.8"/>
<line x1="1015.3" y1="105.6" x2="1018.8" y2="105.6" stroke="#000" stroke-width="0.8"/>
<line x1="1015.3" y1="100.3" x2="1018.8" y2="100.3" stroke="#000" stroke-width="0.8"/>
<line x1="1015.3" y1="96.0" x2="1018.8" y2="96.0" stroke="#000" stroke-width="0.8"/>
<line x1="1015.3" y1="92.3" x2="1018.8" y2="92.3" stroke="#000" stroke-width="0.8"/>
<line x1="1015.3" y1="89.1" x2="1018.8" y2="89.1" stroke="#000" stroke-width="0.8"/>
<line x1="1015.3" y1="86.3" x2="1018.8" y2="86.3" stroke="#000" stroke-width="0.8"/>
<line x1="1120.1" y1="191.9" x2="1120.1" y2="196.9" stroke="#000" stroke-width="0.9"/>
<text x="1120.1" y="212" text-anchor="middle" class="serif" font-size="8" fill="#222">100</text>
<line x1="1015.3" y1="83.8" x2="1019.8" y2="83.8" stroke="#000" stroke-width="0.9"/>
<text x="1009" y="85.1" text-anchor="end" class="serif" font-size="8" fill="#222">100</text>
<line x1="1015.3" y1="67.3" x2="1018.8" y2="67.3" stroke="#000" stroke-width="0.8"/>
<line x1="1015.3" y1="57.7" x2="1018.8" y2="57.7" stroke="#000" stroke-width="0.8"/>
<line x1="1015.3" y1="50.8" x2="1018.8" y2="50.8" stroke="#000" stroke-width="0.8"/>
<line x1="1015.3" y1="45.5" x2="1018.8" y2="45.5" stroke="#000" stroke-width="0.8"/>
<line x1="1015.3" y1="41.2" x2="1018.8" y2="41.2" stroke="#000" stroke-width="0.8"/>
<line x1="1015.3" y1="37.5" x2="1018.8" y2="37.5" stroke="#000" stroke-width="0.8"/>
<line x1="1015.3" y1="34.3" x2="1018.8" y2="34.3" stroke="#000" stroke-width="0.8"/>
<line x1="1015.3" y1="31.5" x2="1018.8" y2="31.5" stroke="#000" stroke-width="0.8"/>
<line x1="1172.5" y1="191.9" x2="1172.5" y2="196.9" stroke="#000" stroke-width="0.9"/>
<text x="1172.5" y="212" text-anchor="middle" class="serif" font-size="8" fill="#222">1000</text>
<line x1="1015.3" y1="29.0" x2="1019.8" y2="29.0" stroke="#000" stroke-width="0.9"/>
<text x="1009" y="30.3" text-anchor="end" class="serif" font-size="8" fill="#222">1000</text>
<text x="1102.5" y="226.5" class="serif" font-size="12.5" text-anchor="middle" font-weight="bold" fill="#111" textLength="67.0" lengthAdjust="spacingAndGlyphs">Y+Nb (ppm)</text>
<text transform="translate(986,101.5) rotate(-90)" text-anchor="middle" class="serif" font-weight="bold" font-size="12.3" fill="#111">Rb (ppm)</text>
<line x1="1218.7" y1="99" x2="1218.7" y2="409" stroke="#000" stroke-width="2.2"/>
<polyline points="1213.7,106.5 1218.7,97.5 1223.7,106.5" fill="none" stroke="#000" stroke-width="2.2"/>
<polyline points="1213.7,401.9 1218.7,410.9 1223.7,401.9" fill="none" stroke="#000" stroke-width="2.2"/>
<polyline points="1213.7,257.8 1218.7,266.8 1223.7,257.8" fill="none" stroke="#000" stroke-width="2.2"/>
<polyline points="1213.7,275.8 1218.7,266.8 1223.7,275.8" fill="none" stroke="#000" stroke-width="2.2"/>
<text transform="translate(1209.8,184) rotate(-90)" text-anchor="middle" class="serif" font-size="12.5" fill="#111">slab derived component</text>
<text transform="translate(1209.8,333) rotate(-90)" text-anchor="middle" class="serif" font-size="12.5" fill="#111">mantle component</text>
<defs>
<pattern id="dots" width="2.5" height="2.5" patternUnits="userSpaceOnUse"><rect width="2.5" height="2.5" fill="#ebebeb"/><rect x="0.5" y="0.5" width="1" height="1" fill="#6e6e6e"/></pattern>
<pattern id="xhatch" width="5" height="5" patternUnits="userSpaceOnUse"><rect width="5" height="5" fill="#f4f4fb"/><path d="M-1,-1 L6,6 M6,-1 L-1,6" stroke="#4444ae" stroke-width="1.05"/></pattern>
<pattern id="pxhatch" width="5" height="5" patternUnits="userSpaceOnUse"><rect width="5" height="5" fill="#f0e2ee"/><path d="M0,0 L5,5 M5,0 L0,5" stroke="#b9a0d8" stroke-width="0.9"/></pattern>
<pattern id="vstripe" width="4" height="4" patternUnits="userSpaceOnUse"><rect width="4" height="4" fill="#f0e6e6"/><rect x="1.5" width="1" height="4" fill="#c9b4b4"/></pattern>
<clipPath id="ignclip"><polygon points="45.6,525.0 90.6,549.0 135.7,550.7 180.7,566.0 225.8,597.0 248.0,623.0 270.8,649.0 298.6,634.8 315.9,627.0 360.9,633.0 406.0,637.4 451.0,642.7 496.1,642.7 541.1,641.6 586.1,637.4 586.1,662.4 541.1,667.0 496.1,671.3 451.0,672.3 406.0,664.9 360.9,659.6 315.9,654.1 270.8,702.6 225.8,627.6 180.7,596.0 135.7,573.5 122.3,570.3 90.6,559.8 45.6,536.5"/></clipPath>
</defs>
<polygon points="45.6,495.3 90.6,510.0 135.7,514.8 180.7,532.0 225.8,549.0 270.8,565.3 290.0,568.5 315.9,566.0 360.9,571.0 406.0,576.4 451.0,584.5 496.1,584.5 541.1,584.5 586.1,587.6 586.1,692.4 541.1,697.7 496.1,702.0 451.0,697.7 406.0,692.4 360.9,690.3 315.9,681.0 271.4,785.6 249.5,682.0 225.8,657.1 180.7,632.0 135.7,614.9 90.6,604.6 45.6,590.2" fill="url(#dots)" stroke="#222" stroke-width="0.8"/>
<polygon points="45.6,523.7 90.6,547.0 135.7,547.0 180.7,563.4 225.8,590.0 270.8,623.4 316.5,618.1 360.9,627.0 406.0,640.0 451.0,647.0 496.1,651.0 541.1,655.0 586.1,659.6 586.1,661.7 541.1,671.0 496.1,669.2 451.0,661.7 406.0,659.6 360.9,645.9 315.9,642.0 298.6,634.8 270.8,623.4 248.0,623.0 225.8,622.0 180.7,594.0 135.7,573.0 122.3,570.3 100.3,572.2 90.6,572.6 45.6,559.4" fill="url(#xhatch)" stroke="#222" stroke-width="0.8"/>
<polygon points="45.6,525.0 90.6,549.0 135.7,550.7 180.7,566.0 225.8,597.0 248.0,623.0 270.8,649.0 298.6,634.8 315.9,627.0 360.9,633.0 406.0,637.4 451.0,642.7 496.1,642.7 541.1,641.6 586.1,637.4 586.1,662.4 541.1,667.0 496.1,671.3 451.0,672.3 406.0,664.9 360.9,659.6 315.9,654.1 270.8,702.6 225.8,627.6 180.7,596.0 135.7,573.5 122.3,570.3 90.6,559.8 45.6,536.5" fill="#fbecee" stroke="#555" stroke-width="0.7"/>
<polygon points="45.6,523.7 90.6,547.0 135.7,547.0 180.7,563.4 225.8,590.0 270.8,623.4 316.5,618.1 360.9,627.0 406.0,640.0 451.0,647.0 496.1,651.0 541.1,655.0 586.1,659.6 586.1,661.7 541.1,671.0 496.1,669.2 451.0,661.7 406.0,659.6 360.9,645.9 315.9,642.0 298.6,634.8 270.8,623.4 248.0,623.0 225.8,622.0 180.7,594.0 135.7,573.0 122.3,570.3 100.3,572.2 90.6,572.6 45.6,559.4" fill="url(#pxhatch)" clip-path="url(#ignclip)"/>
<polyline points="45.6,515.5 90.6,533.5 135.7,548.0 180.7,567.5 225.8,602.3 270.8,678.2 315.8,630.4 360.9,637.5 405.9,646.0 451.0,652.5 496.0,655.4 541.0,654.3 586.1,655.4" fill="none" stroke="#b02418" stroke-width="2"/>
<rect x="45.6" y="470.2" width="540.5" height="351.3" fill="none" stroke="#000" stroke-width="1.6"/>
<line x1="45.6" y1="821.5" x2="45.6" y2="827.5" stroke="#000" stroke-width="1"/>
<text x="45.6" y="844" text-anchor="middle" class="serif" font-size="10.5" fill="#111">La</text>
<line x1="90.6" y1="821.5" x2="90.6" y2="827.5" stroke="#000" stroke-width="1"/>
<text x="90.6" y="844" text-anchor="middle" class="serif" font-size="10.5" fill="#111">Ce</text>
<line x1="135.7" y1="821.5" x2="135.7" y2="827.5" stroke="#000" stroke-width="1"/>
<text x="135.7" y="844" text-anchor="middle" class="serif" font-size="10.5" fill="#111">Pr</text>
<line x1="180.7" y1="821.5" x2="180.7" y2="827.5" stroke="#000" stroke-width="1"/>
<text x="180.7" y="844" text-anchor="middle" class="serif" font-size="10.5" fill="#111">Nd</text>
<line x1="225.8" y1="821.5" x2="225.8" y2="827.5" stroke="#000" stroke-width="1"/>
<text x="225.8" y="844" text-anchor="middle" class="serif" font-size="10.5" fill="#111">Sm</text>
<line x1="270.8" y1="821.5" x2="270.8" y2="827.5" stroke="#000" stroke-width="1"/>
<text x="270.8" y="844" text-anchor="middle" class="serif" font-size="10.5" fill="#111">Eu</text>
<line x1="315.8" y1="821.5" x2="315.8" y2="827.5" stroke="#000" stroke-width="1"/>
<text x="315.8" y="844" text-anchor="middle" class="serif" font-size="10.5" fill="#111">Gd</text>
<line x1="360.9" y1="821.5" x2="360.9" y2="827.5" stroke="#000" stroke-width="1"/>
<text x="360.9" y="844" text-anchor="middle" class="serif" font-size="10.5" fill="#111">Tb</text>
<line x1="405.9" y1="821.5" x2="405.9" y2="827.5" stroke="#000" stroke-width="1"/>
<text x="405.9" y="844" text-anchor="middle" class="serif" font-size="10.5" fill="#111">Dy</text>
<line x1="451.0" y1="821.5" x2="451.0" y2="827.5" stroke="#000" stroke-width="1"/>
<text x="451.0" y="844" text-anchor="middle" class="serif" font-size="10.5" fill="#111">Ho</text>
<line x1="496.0" y1="821.5" x2="496.0" y2="827.5" stroke="#000" stroke-width="1"/>
<text x="496.0" y="844" text-anchor="middle" class="serif" font-size="10.5" fill="#111">Er</text>
<line x1="541.0" y1="821.5" x2="541.0" y2="827.5" stroke="#000" stroke-width="1"/>
<text x="541.0" y="844" text-anchor="middle" class="serif" font-size="10.5" fill="#111">Yb</text>
<line x1="586.1" y1="821.5" x2="586.1" y2="827.5" stroke="#000" stroke-width="1"/>
<text x="586.1" y="844" text-anchor="middle" class="serif" font-size="10.5" fill="#111">Lu</text>
<line x1="45.6" y1="821.5" x2="50.6" y2="821.5" stroke="#000" stroke-width="0.9"/>
<line x1="45.6" y1="778.9" x2="48.6" y2="778.9" stroke="#000" stroke-width="0.9"/>
<line x1="45.6" y1="754.0" x2="48.6" y2="754.0" stroke="#000" stroke-width="0.9"/>
<line x1="45.6" y1="736.3" x2="48.6" y2="736.3" stroke="#000" stroke-width="0.9"/>
<line x1="45.6" y1="722.6" x2="48.6" y2="722.6" stroke="#000" stroke-width="0.9"/>
<line x1="45.6" y1="711.4" x2="48.6" y2="711.4" stroke="#000" stroke-width="0.9"/>
<line x1="45.6" y1="701.9" x2="48.6" y2="701.9" stroke="#000" stroke-width="0.9"/>
<line x1="45.6" y1="693.7" x2="48.6" y2="693.7" stroke="#000" stroke-width="0.9"/>
<line x1="45.6" y1="686.5" x2="48.6" y2="686.5" stroke="#000" stroke-width="0.9"/>
<line x1="45.6" y1="680.0" x2="50.6" y2="680.0" stroke="#000" stroke-width="0.9"/>
<line x1="45.6" y1="637.4" x2="48.6" y2="637.4" stroke="#000" stroke-width="0.9"/>
<line x1="45.6" y1="612.5" x2="48.6" y2="612.5" stroke="#000" stroke-width="0.9"/>
<line x1="45.6" y1="594.8" x2="48.6" y2="594.8" stroke="#000" stroke-width="0.9"/>
<line x1="45.6" y1="581.1" x2="48.6" y2="581.1" stroke="#000" stroke-width="0.9"/>
<line x1="45.6" y1="569.9" x2="48.6" y2="569.9" stroke="#000" stroke-width="0.9"/>
<line x1="45.6" y1="560.4" x2="48.6" y2="560.4" stroke="#000" stroke-width="0.9"/>
<line x1="45.6" y1="552.2" x2="48.6" y2="552.2" stroke="#000" stroke-width="0.9"/>
<line x1="45.6" y1="545.0" x2="48.6" y2="545.0" stroke="#000" stroke-width="0.9"/>
<line x1="45.6" y1="538.5" x2="50.6" y2="538.5" stroke="#000" stroke-width="0.9"/>
<line x1="45.6" y1="495.9" x2="48.6" y2="495.9" stroke="#000" stroke-width="0.9"/>
<line x1="45.6" y1="471.0" x2="48.6" y2="471.0" stroke="#000" stroke-width="0.9"/>
<text x="39.6" y="542.7" class="serif" font-size="11.6" text-anchor="end" fill="#111">100</text>
<text x="39.6" y="684.2" class="serif" font-size="11.6" text-anchor="end" fill="#111">10</text>
<text x="39.6" y="825.7" class="serif" font-size="11.6" text-anchor="end" fill="#111">1</text>
<text transform="translate(14.2,646) rotate(-90)" class="serif" font-size="14.5" text-anchor="middle" fill="#111" textLength="65.5" lengthAdjust="spacingAndGlyphs">sample/CI</text>
<text x="519.2" y="520.6" class="serif" font-size="21.8" fill="#111">c)</text>
<line x1="55.5" y1="724.4" x2="83.6" y2="724.4" stroke="#b02418" stroke-width="2"/>
<rect x="54.3" y="738.8" width="29.3" height="16.6" fill="url(#vstripe)" stroke="#333" stroke-width="0.9"/>
<rect x="54.3" y="762.4" width="29.3" height="16.6" fill="url(#xhatch)" stroke="#333" stroke-width="0.9"/>
<rect x="54.3" y="785.5" width="29.3" height="16.3" fill="#fdf3f5" stroke="#333" stroke-width="0.9"/>
<text x="90.5" y="729.2" class="serif" font-size="11.8" fill="#111" textLength="80.0" lengthAdjust="spacingAndGlyphs">Cuitzeo Xenolith</text>
<text x="90.5" y="752.0" class="serif" font-size="11.8" fill="#111" textLength="60.8" lengthAdjust="spacingAndGlyphs">Mil Cumbres</text>
<text x="90.5" y="775.2" class="serif" font-size="11.8" fill="#111" textLength="54.0" lengthAdjust="spacingAndGlyphs">Angangueo</text>
<text x="90.5" y="798.0" class="serif" font-size="11.8" fill="#111" textLength="90.6" lengthAdjust="spacingAndGlyphs">Cuitzeo Ignimbrite</text>
<line x1="969.6" y1="470.4" x2="969.6" y2="798.6" stroke="#b4b4b4" stroke-width="1.4"/>
<line x1="707.6" y1="623" x2="1192.4" y2="623" stroke="#b4b4b4" stroke-width="1.4"/>
<line x1="813.8" y1="512.9" x2="951" y2="612.6" stroke="#cf9713" stroke-width="29" stroke-linecap="round"/>
<text transform="translate(808,515.5) rotate(37.5)" class="serif" font-size="17.8" fill="#1a1a1a">mantle array</text>
<polygon points="927.20,549.70 929.32,554.79 934.81,555.23 930.62,558.81 931.90,564.17 927.20,561.30 922.50,564.17 923.78,558.81 919.59,555.23 925.08,554.79" fill="#3f7ac4"/>
<polygon points="909.3,566.1 916.8,579.1 901.8,579.1" fill="#e8601c"/>
<polygon points="921.70,567.10 923.82,572.19 929.31,572.63 925.12,576.21 926.40,581.57 921.70,578.70 917.00,581.57 918.28,576.21 914.09,572.63 919.58,572.19" fill="#3f7ac4"/>
<circle cx="931.4" cy="577.3" r="7.4" fill="#7e338c"/>
<circle cx="959.2" cy="581" r="7.4" fill="#7e338c"/>
<polygon points="920.8,581.1 928.3,594.1 913.3,594.1" fill="#e8601c"/>
<polygon points="884.6,601.4 892.1,614.4 877.1,614.4" fill="#e8601c"/>
<polygon points="929.4,598.9000000000001 936.6999999999999,606.2 929.4,613.5 922.1,606.2" fill="#3f7ac4"/>
<polygon points="959.60,594.60 962.19,600.83 968.92,601.37 963.79,605.76 965.36,612.33 959.60,608.81 953.84,612.33 955.41,605.76 950.28,601.37 957.01,600.83" fill="#e3151a"/>
<circle cx="1083" cy="611.5" r="7.6" fill="#7e338c"/>
<text x="1086.5" y="595.0" class="serif" font-size="14" text-anchor="middle" fill="#111" textLength="52.0" lengthAdjust="spacingAndGlyphs">Amealco</text>
<text x="1143.8" y="520.5" class="serif" font-size="21.3" fill="#111">d)</text>
<line x1="707.6" y1="470.4" x2="1192.4" y2="470.4" stroke="#000" stroke-width="1.4"/>
<line x1="1192.4" y1="470.4" x2="1192.4" y2="798.6" stroke="#000" stroke-width="1.4"/>
<line x1="707.6" y1="470.4" x2="707.6" y2="798.6" stroke="#000" stroke-width="1.6"/>
<line x1="707.6" y1="798.6" x2="1192.4" y2="798.6" stroke="#000" stroke-width="1.6"/>
<line x1="691.6" y1="797.4" x2="707.6" y2="797.4" stroke="#000" stroke-width="1"/>
<text x="685.8" y="801.7" class="serif" font-size="13" text-anchor="end" fill="#111">0.512</text>
<line x1="696.1" y1="770.1" x2="707.6" y2="770.1" stroke="#000" stroke-width="1"/>
<line x1="691.6" y1="742.9" x2="707.6" y2="742.9" stroke="#000" stroke-width="1"/>
<text x="685.8" y="747.2" class="serif" font-size="13" text-anchor="end" fill="#111">0.5122</text>
<line x1="696.1" y1="715.7" x2="707.6" y2="715.7" stroke="#000" stroke-width="1"/>
<line x1="691.6" y1="688.4" x2="707.6" y2="688.4" stroke="#000" stroke-width="1"/>
<text x="685.8" y="692.7" class="serif" font-size="13" text-anchor="end" fill="#111">0.5124</text>
<line x1="696.1" y1="661.2" x2="707.6" y2="661.2" stroke="#000" stroke-width="1"/>
<line x1="691.6" y1="633.9" x2="707.6" y2="633.9" stroke="#000" stroke-width="1"/>
<text x="685.8" y="638.2" class="serif" font-size="13" text-anchor="end" fill="#111">0.5126</text>
<line x1="696.1" y1="606.6" x2="707.6" y2="606.6" stroke="#000" stroke-width="1"/>
<line x1="691.6" y1="579.4" x2="707.6" y2="579.4" stroke="#000" stroke-width="1"/>
<text x="685.8" y="583.7" class="serif" font-size="13" text-anchor="end" fill="#111">0.5128</text>
<line x1="696.1" y1="552.1" x2="707.6" y2="552.1" stroke="#000" stroke-width="1"/>
<line x1="691.6" y1="524.9" x2="707.6" y2="524.9" stroke="#000" stroke-width="1"/>
<text x="685.8" y="529.2" class="serif" font-size="13" text-anchor="end" fill="#111">0.513</text>
<line x1="696.1" y1="497.6" x2="707.6" y2="497.6" stroke="#000" stroke-width="1"/>
<line x1="691.6" y1="470.4" x2="707.6" y2="470.4" stroke="#000" stroke-width="1"/>
<text x="685.8" y="474.7" class="serif" font-size="13" text-anchor="end" fill="#111">0.5132</text>
<line x1="707.6" y1="798.6" x2="707.6" y2="813.6" stroke="#000" stroke-width="1"/>
<text x="707.6" y="834.0" class="serif" font-size="13" text-anchor="middle" fill="#111">0.702</text>
<line x1="756.1" y1="798.6" x2="756.1" y2="806.6" stroke="#000" stroke-width="1"/>
<line x1="804.6" y1="798.6" x2="804.6" y2="813.6" stroke="#000" stroke-width="1"/>
<text x="804.6" y="834.0" class="serif" font-size="13" text-anchor="middle" fill="#111">0.703</text>
<line x1="853.1" y1="798.6" x2="853.1" y2="806.6" stroke="#000" stroke-width="1"/>
<line x1="901.6" y1="798.6" x2="901.6" y2="813.6" stroke="#000" stroke-width="1"/>
<text x="901.6" y="834.0" class="serif" font-size="13" text-anchor="middle" fill="#111">0.704</text>
<line x1="950.1" y1="798.6" x2="950.1" y2="806.6" stroke="#000" stroke-width="1"/>
<line x1="998.6" y1="798.6" x2="998.6" y2="813.6" stroke="#000" stroke-width="1"/>
<text x="998.6" y="834.0" class="serif" font-size="13" text-anchor="middle" fill="#111">0.705</text>
<line x1="1047.1" y1="798.6" x2="1047.1" y2="806.6" stroke="#000" stroke-width="1"/>
<line x1="1095.6" y1="798.6" x2="1095.6" y2="813.6" stroke="#000" stroke-width="1"/>
<text x="1095.6" y="834.0" class="serif" font-size="13" text-anchor="middle" fill="#111">0.706</text>
<line x1="1144.1" y1="798.6" x2="1144.1" y2="806.6" stroke="#000" stroke-width="1"/>
<line x1="1192.6" y1="798.6" x2="1192.6" y2="813.6" stroke="#000" stroke-width="1"/>
<text x="1192.6" y="834.0" class="serif" font-size="13" text-anchor="middle" fill="#111">0.707</text>
<text x="909" y="868.5" class="serif" font-size="19" fill="#111" textLength="81" lengthAdjust="spacingAndGlyphs">(<tspan font-size="12" dy="-6.5">87</tspan><tspan dy="6.5">Sr/</tspan><tspan font-size="12" dy="-6.5">86</tspan><tspan dy="6.5">Sr)</tspan></text>
<text transform="translate(626.5,679.5) rotate(-90) scale(0.97,1)" class="serif" font-size="19" fill="#111">(<tspan font-size="12" dy="-6.5">143</tspan><tspan dy="6.5">Nd/</tspan><tspan font-size="12" dy="-6.5">144</tspan><tspan dy="6.5">Nd)</tspan></text>
<rect x="729.7" y="670.2" width="137.5" height="118.1" fill="#c8c8c8"/>
<rect x="728.7" y="669.2" width="137.5" height="118.1" fill="#fff" stroke="#a8a8a8" stroke-width="1.2"/>
<polygon points="753.40,677.60 755.97,683.77 762.63,684.30 757.55,688.65 759.10,695.15 753.40,691.66 747.70,695.15 749.25,688.65 744.17,684.30 750.83,683.77" fill="#e3151a"/>
<circle cx="753.4" cy="709.9" r="7.4" fill="#7e338c"/>
<polygon points="753.4,723.3000000000001 760.6999999999999,730.6 753.4,737.9 746.1,730.6" fill="#3f7ac4"/>
<polygon points="753.4,744.0 760.9,757.0 745.9,757.0" fill="#e8601c"/>
<polygon points="753.40,764.30 755.41,769.13 760.63,769.55 756.65,772.96 757.87,778.05 753.40,775.32 748.93,778.05 750.15,772.96 746.17,769.55 751.39,769.13" fill="#3f7ac4"/>
<text x="777.8" y="692.8" class="serif" font-size="14.5" fill="#111" textLength="45.4" lengthAdjust="spacingAndGlyphs">Cuitzeo</text>
<text x="777.8" y="715.2" class="serif" font-size="14.5" fill="#111" textLength="63.0" lengthAdjust="spacingAndGlyphs">Granulites</text>
<text x="777.8" y="736.0" class="serif" font-size="14.5" fill="#111" textLength="68.3" lengthAdjust="spacingAndGlyphs">Angangueo</text>
<text x="777.8" y="756.9" class="serif" font-size="14.5" fill="#111" textLength="77.0" lengthAdjust="spacingAndGlyphs">Mil Cumbres</text>
<text x="777.8" y="776.8" class="serif" font-size="14.5" fill="#111" textLength="80.0" lengthAdjust="spacingAndGlyphs">Popocatépetl</text>
</svg></body></html>
